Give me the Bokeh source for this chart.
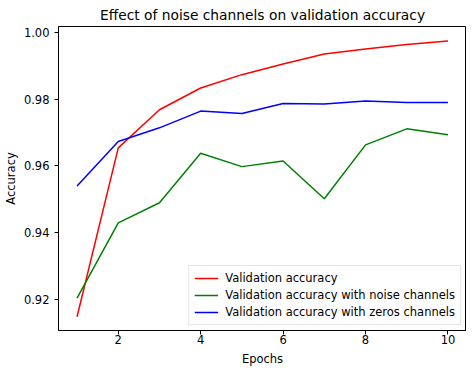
from bokeh.plotting import figure
from bokeh.models import Range1d, FixedTicker, NumeralTickFormatter, Legend, LegendItem
from bokeh.embed import file_html
from bokeh.resources import INLINE

epochs = [1, 2, 3, 4, 5, 6, 7, 8, 9, 10]
val_acc = [0.9149, 0.9654, 0.9768, 0.9833, 0.9873, 0.9905, 0.9935, 0.9950, 0.9963, 0.9974]
val_acc_noise = [0.9205, 0.9430, 0.9490, 0.9638, 0.9598, 0.9615, 0.9502, 0.9663, 0.9711, 0.9693]
val_acc_zeros = [0.9540, 0.9673, 0.9714, 0.9764, 0.9757, 0.9787, 0.9785, 0.9794, 0.9790, 0.9790]
x_ticks = [2, 4, 6, 8, 10]
y_ticks = [0.92, 0.94, 0.96, 0.98, 1.00]

FONT = "DejaVu Sans"

p = figure(width=466, height=368, output_backend="svg", toolbar_location=None,
           title="Effect of noise channels on validation accuracy",
           x_range=Range1d(0.55, 10.45), y_range=Range1d(0.9108, 1.0017),
           min_border=0,
           min_border_left=51, min_border_right=0, min_border_top=26, min_border_bottom=37)

p.title.text_font = FONT
p.title.text_font_size = "13.8px"
p.title.text_font_style = "normal"
p.title.align = "center"
p.title.text_color = "#000000"
p.title.standoff = 7
p.title.offset = 0

p.xgrid.visible = False
p.ygrid.visible = False
p.outline_line_color = "#000000"
p.outline_line_width = 1

for ax in (p.xaxis[0], p.yaxis[0]):
    ax.major_label_text_font = FONT
    ax.major_label_text_font_size = "11.5px"
    ax.major_label_text_color = "#000000"
    ax.axis_label_text_font = FONT
    ax.axis_label_text_font_size = "11.5px"
    ax.axis_label_text_font_style = "normal"
    ax.axis_label_text_color = "#000000"
    ax.major_tick_in = 0
    ax.major_tick_out = 4
    ax.minor_tick_in = 0
    ax.minor_tick_out = 0
    ax.axis_line_color = "#000000"
    ax.major_tick_line_color = "#000000"

p.xaxis.ticker = FixedTicker(ticks=x_ticks)
p.yaxis.ticker = FixedTicker(ticks=y_ticks)
p.yaxis.formatter = NumeralTickFormatter(format="0.00")
p.xaxis.axis_label = "Epochs"
p.yaxis.axis_label = "Accuracy"
p.xaxis.major_label_standoff = 0
p.xaxis.axis_label_standoff = 5
p.yaxis.major_label_standoff = 5
p.yaxis.axis_label_standoff = 3

r1 = p.line(epochs, val_acc, line_color="red", line_width=1.5)
r2 = p.line(epochs, val_acc_noise, line_color="green", line_width=1.5)
r3 = p.line(epochs, val_acc_zeros, line_color="blue", line_width=1.5)

legend = Legend(items=[
    LegendItem(label="Validation accuracy", renderers=[r1]),
    LegendItem(label="Validation accuracy with noise channels", renderers=[r2]),
    LegendItem(label="Validation accuracy with zeros channels", renderers=[r3]),
], location="bottom_right")
legend.label_text_font = FONT
legend.label_text_font_size = "11.5px"
legend.label_text_color = "#000000"
legend.label_height = 14
legend.glyph_height = 14
legend.glyph_width = 24
legend.label_standoff = 7
legend.spacing = 3
legend.padding = 5
legend.margin = 5
legend.border_line_color = "#cccccc"
legend.border_line_width = 1
legend.background_fill_alpha = 0.8
p.add_layout(legend)

open("out.html", "w").write(file_html(p, INLINE))
